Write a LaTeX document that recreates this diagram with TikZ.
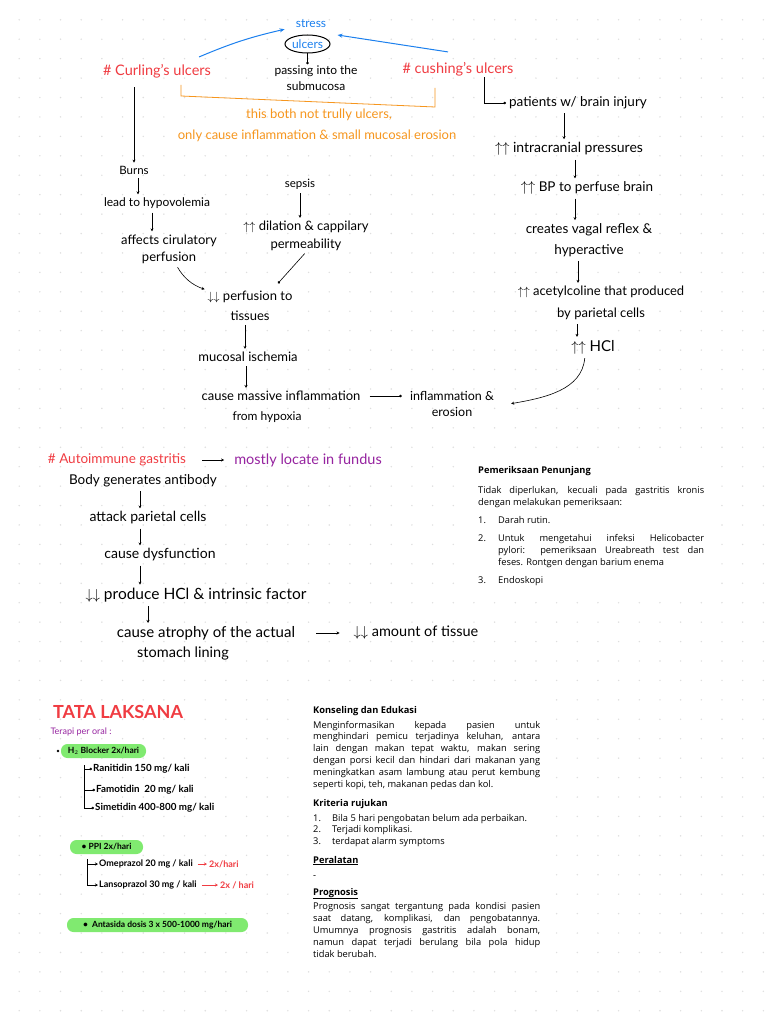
\documentclass[tikz,border=0pt]{standalone}
\usepackage{fontspec}
\setmainfont{Lato}
\newfontfamily\printfont{Open Sans}
\usetikzlibrary{arrows.meta, shapes.geometric}

\definecolor{inkred}{RGB}{240,60,66}
\definecolor{inkblue}{RGB}{28,128,238}
\definecolor{inkorange}{RGB}{246,150,30}
\definecolor{inkpurple}{RGB}{150,36,160}
\definecolor{inkgreen}{RGB}{128,234,112}
\definecolor{dotgray}{RGB}{222,222,222}

\newcommand{\fs}[2]{\fontsize{#1}{#2}\selectfont}

\tikzset{
  hand/.style={font=\fs{13}{15}, inner sep=1pt, align=center},
  handbig/.style={font=\fs{14}{16}, inner sep=1pt},
  drug/.style={font=\bfseries\fs{9}{11}, inner sep=1pt, anchor=west},
  pill/.style={fill=inkgreen, rounded corners=6.5pt, minimum height=14pt, inner sep=1pt, font=\bfseries\fs{8.5}{10}},
  prt/.style={font=\printfont\fs{9.3}{12}, inner sep=0pt, anchor=base west},
  prtbold/.style={prt, font=\printfont\bfseries\fs{9.3}{12}},
  prtpar/.style={prt, text width=#1, align=justify, execute at begin node={\hyphenpenalty=10000\tolerance=9999}},
  down/.style={-{Stealth[length=3pt,width=3pt]}, line width=0.6pt, shorten <=3pt, shorten >=2pt},
  dotend/.style={-{Circle[length=2.5pt]}, line width=0.6pt},
  bluearr/.style={-{Stealth[length=5pt,width=4pt]}, inkblue, line width=1pt},
}

\begin{document}
\begin{tikzpicture}[x=1pt, y=-1pt]
	\useasboundingbox (0,0) rectangle (768,1024);
	\fill[white] (0,0) rectangle (768,1024);
	% dotted paper
	\foreach \i in {0,...,36}
		\foreach \j in {0,...,52}
			\fill[dotgray] ({19.2+20.67*\i},{19.8+19.43*\j}) circle (0.8);
	% pasted text blocks are on white
	\fill[white] (470,455) rectangle (712,592);
	\fill[white] (305,698) rectangle (548,963);

	% stress ulcers
	\node[hand, inkblue, font=\fs{12}{14}] (stress) at (311,24) {stress};
	\node[draw, ellipse, line width=1pt, minimum width=45, minimum height=18, inner sep=0pt, text=inkblue, font=\fs{12}{14}] (ulcer) at (307.5,44) {ulcers};
	\node[hand, font=\fs{12}{16}] (pass) at (316,78) {passing into the\\submucosa};
	\draw[dotend] (ulcer.south) -- (ulcer.south |- pass.north);
	\node[hand, inkred, font=\fs{14.5}{16}] (curling) at (157,71) {\# Curling's ulcers};
	\node[hand, inkred, font=\fs{14.5}{16}] (cushing) at (458,69) {\# cushing's ulcers};
	\draw[bluearr] ([xshift=-13pt,yshift=6pt]curling.north east) to[bend left=5] ([xshift=-10pt]stress.south west);
	\draw[bluearr] ([xshift=-10pt,yshift=9pt]cushing.north) -- ([xshift=7pt,yshift=9pt]ulcer.east);
	% both are not true ulcers
	\draw[inkorange, line width=0.8pt] (181,85) -- (181,96) -- (435,107) -- (435,88);
	\node[hand, inkorange] (note1) at (319,115) {this both not trully ulcers,};
	\node[hand, inkorange] (note2) at (317,136) {only cause inflammation \& small mucosal erosion};

	% curling side
	\node[hand, font=\fs{11.5}{13}] (burns) at (134,170) {Burns};
	\node[hand, font=\fs{12}{14}] (hypo) at (157,203) {lead to hypovolemia};
	\node[hand, font=\fs{13}{17}] (circ) at (169,249) {affects cirulatory\\perfusion};
	\node[hand, font=\fs{11.5}{13}] (sepsis) at (300,184) {sepsis};
	\node[hand, font=\fs{13}{18}] (dil) at (306,236) {$\uparrow\uparrow$ dilation \& cappilary\\permeability};
	\node[hand, font=\fs{13}{20}] (perf) at (250,306) {$\downarrow\downarrow$ perfusion to\\tissues};
	\node[hand] (isch) at (248,357) {mucosal ischemia};
	\node[hand] (massive) at (281,396) {cause massive inflammation};
	\node[hand, font=\fs{12}{14}] (hypoxia) at (267,417) {from hypoxia};
	\node[hand, font=\fs{12.5}{16}] (erosion) at (452,404) {inflammation \&\\erosion};
	\draw[down, shorten <=8pt] (burns |- curling.south) -- (burns.north);
	\draw[down] ([xshift=4pt]burns.south) -- ([xshift=4pt]burns.south |- hypo.north);
	\draw[down] ([xshift=-5pt]hypo.south) -- ([xshift=-5pt]hypo.south |- circ.north);
	\draw[down] ([xshift=7pt]circ.south) to[bend right=20] (perf.north west);
	\draw[down] (sepsis.south) -- (sepsis.south |- dil.north);
	\draw[dotend, shorten <=2pt, shorten >=9pt] (dil.south) -- ([xshift=22pt]perf.north);
	\draw[down] ([xshift=-5pt]perf.south) -- ([xshift=-5pt]perf.south |- isch.north);
	\draw[down] ([xshift=-2pt]isch.south) -- ([xshift=-2pt]isch.south |- massive.north);
	\draw[dotend, shorten <=8pt, shorten >=7pt] (massive.east) -- (massive.east -| erosion.west);

	% cushing side
	\node[hand, font=\fs{13.5}{15}] (pat) at (578,103) {patients w/ brain injury};
	\node[hand, font=\fs{14}{16}] (icp) at (569,149) {$\uparrow\uparrow$ intracranial pressures};
	\node[hand, font=\fs{13.5}{15}] (bp) at (587,188) {$\uparrow\uparrow$ BP to perfuse brain};
	\node[hand, font=\fs{13.5}{21}] (vagal) at (589,240) {creates vagal reflex \&\\hyperactive};
	\node[hand, font=\fs{13}{22}] (ach) at (601,303) {$\uparrow\uparrow$ acetylcoline that produced\\by parietal cells};
	\node[hand, font=\fs{15}{17}] (hcl) at (593,347) {$\uparrow\uparrow$ HCl};
	\draw[dotend, shorten >=2pt] ([xshift=26pt]cushing.south) |- (pat.west);
	\draw[down] ([xshift=-14pt]pat.south) -- ([xshift=-14pt]pat.south |- icp.north);
	\draw[down] ([xshift=6pt]icp.south) -- ([xshift=6pt]icp.south |- bp.north);
	\draw[down] ([xshift=-12pt]bp.south) -- ([xshift=-12pt]bp.south |- vagal.north);
	\draw[down] ([xshift=-11pt]vagal.south) -- ([xshift=-11pt]vagal.south |- ach.north);
	\draw[down] ([xshift=-24pt]ach.south) -- ([xshift=-24pt]ach.south |- hcl.north);
	\draw[down] ([xshift=-8pt]hcl.south) to[out=-95, in=10] ([xshift=14pt]erosion.east);

	% autoimmune gastritis
	\node[handbig, inkred, font=\fs{13.5}{16}] (auto) at (117,460) {\# Autoimmune gastritis};
	\node[handbig, inkpurple, font=\fs{14.5}{16}] (fundus) at (308,460) {mostly locate in fundus};
	\node[handbig, font=\fs{13.5}{16}] (anti) at (143,481) {Body generates antibody};
	\node[handbig] (attack) at (148,518) {attack parietal cells};
	\node[handbig] (dys) at (160,555) {cause dysfunction};
	\node[handbig, font=\fs{15.5}{17}] (prod) at (196,595) {$\downarrow\downarrow$ produce HCl \& intrinsic factor};
	\node[handbig, font=\fs{15}{17}] (atrophy) at (206,633) {cause atrophy of the actual};
	\node[handbig, font=\fs{14.5}{16}] (lining) at (183,653) {stomach lining};
	\node[handbig, font=\fs{14.5}{16}] (tissue) at (416,633) {$\downarrow\downarrow$ amount of tissue};
	\draw[down, shorten <=15pt, shorten >=9pt] (auto.east) -- (fundus.west);
	\draw[down] ([xshift=-3pt]anti.south) -- ([xshift=-3pt]anti.south |- attack.north);
	\draw[down] ([xshift=-8pt]attack.south) -- ([xshift=-8pt]attack.south |- dys.north);
	\draw[down] ([xshift=-20pt]dys.south) -- ([xshift=-20pt]dys.south |- prod.north);
	\draw[down] ([xshift=-48pt]prod.south) -- ([xshift=-48pt]prod.south |- atrophy.north);
	\draw[down, shorten <=20pt, shorten >=13pt] (atrophy.east) -- (tissue.west);

	% pemeriksaan penunjang
	\node[prtbold] (pemT) at (478,473) {Pemeriksaan Penunjang};
	\node[prtpar=226pt] (pemP) at (478,493) {Tidak diperlukan, kecuali pada gastritis kronis\linebreak dengan melakukan pemeriksaan:};
	\node[prt] (pem1n) at (478,523) {1.};
	\node[prt] (pem1) at (498,523) {Darah rutin.};
	\node[prt] (pem2n) at (478,541) {2.};
	\node[prtpar=206pt] (pem2) at (498,541) {Untuk mengetahui infeksi Helicobacter\linebreak pylori: pemeriksaan Ureabreath test dan\linebreak feses. Rontgen dengan barium enema};
	\node[prt] (pem3n) at (478,583) {3.};
	\node[prt] (pem3) at (498,583) {Endoskopi};

	% tata laksana
	\node[inkred, font=\bfseries\fs{18}{20}, inner sep=1pt] (tata) at (118,712) {TATA LAKSANA};
	\node[inkpurple, font=\fs{9}{10}, inner sep=1pt] (terapi) at (81,732) {Terapi per oral :};
	\fill (58,751) circle (1.4);
	\node[pill, minimum width=85] (h2) at (103.5,751) {H$_2$ Blocker 2x/hari};
	\node[drug, font=\bfseries\fs{9.8}{11}] (ran) at (92,769) {Ranitidin 150 mg/ kali};
	\node[drug, font=\bfseries\fs{9.8}{11}] (famo) at (95,790) {Famotidin\ \ 20 mg/\ kali};
	\node[drug, font=\bfseries\fs{9.8}{11}] (sime) at (94,808) {Simetidin 400-800 mg/ kali};
	\coordinate (h2top) at (84,765);
	\draw[dotend] (h2top) |- (ran.west);
	\draw[dotend] (h2top) |- (sime.west);
	\draw[dotend] (h2top |- famo.west) -- (famo.west);

	\node[pill, minimum width=73] (ppi) at (106.5,847) {\textbullet\ PPI 2x/hari};
	\node[drug] (ome) at (98,864) {Omeprazol 20 mg / kali};
	\node[drug, inkred] (omex) at (208,864) {2x/hari};
	\node[drug] (lanso) at (98,885) {Lansoprazol 30 mg / kali};
	\node[drug, inkred] (lansox) at (219,885) {2x / hari};
	\coordinate (ppitop) at (87,859);
	\draw[down, shorten <=0pt, shorten >=0pt] (ppitop) |- (lanso.west);
	\draw[down, shorten <=0pt, shorten >=0pt] (ppitop |- ome.west) -- (ome.west);
	\draw[down, inkred, shorten <=4pt, shorten >=1pt] (ome.east) -- (omex.west);
	\draw[down, inkred, shorten <=4pt, shorten >=1pt] (lanso.east) -- (lansox.west);

	\node[pill, minimum width=181] (ant) at (157.5,925) {\textbullet\ \ Antasida dosis 3 x 500-1000 mg/hari};

	% konseling, rujukan, peralatan, prognosis
	\node[prtbold] (konT) at (313,713) {Konseling dan Edukasi};
	\node[prtpar=227pt, font=\printfont\fs{9.3}{11.8}] (konP) at (313,728) {Menginformasikan kepada pasien untuk\linebreak menghindari pemicu terjadinya keluhan, antara\linebreak lain dengan makan tepat waktu, makan sering\linebreak dengan porsi kecil dan hindari dari makanan yang\linebreak meningkatkan asam lambung atau perut kembung\linebreak seperti kopi, teh, makanan pedas dan kol.};
	\node[prtbold] (kriT) at (313,806) {Kriteria rujukan};
	\foreach \kn/\kt [count=\k] in {1./Bila 5 hari pengobatan belum ada perbaikan., 2./Terjadi komplikasi., 3./terdapat alarm symptoms}{
		\node[prt] (kri\k n) at (313,{809.5+11.6*\k}) {\kn};
		\node[prt] (kri\k) at (332,{809.5+11.6*\k}) {\kt};
	}
	\node[prtbold] (perT) at (313,863) {\underline{Peralatan}};
	\node[prt] (perD) at (313,878) {-};
	\node[prtbold] (progT) at (313,895) {\underline{Prognosis}};
	\node[prtpar=227pt] (progP) at (313,909) {Prognosis sangat tergantung pada kondisi pasien\linebreak saat datang, komplikasi, dan pengobatannya.\linebreak Umumnya prognosis gastritis adalah bonam,\linebreak namun dapat terjadi berulang bila pola hidup\linebreak tidak berubah.};
\end{tikzpicture}
\end{document}
